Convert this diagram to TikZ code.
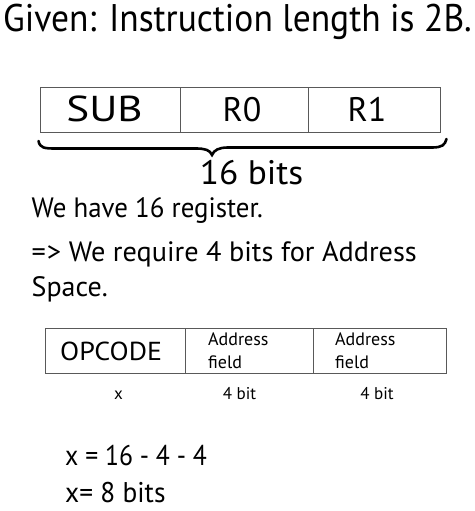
\documentclass[tikz,border=0pt]{standalone}
\usepackage{fontspec}
\setmainfont{PT Sans}
\begin{document}
\begin{tikzpicture}[x=1pt,y=1pt,
  txt/.style={anchor=base west,inner sep=0pt},
  ctxt/.style={anchor=base,inner sep=0pt},
  cell/.style={draw=black!65,line width=0.9pt}]
\useasboundingbox (0,0) rectangle (474,-511);
\node[txt,font=\fontsize{38.5}{40}\selectfont] (title) at (3,-32) {\scalebox{0.922}[1]{Given: Instruction length is 2B.}};
% box 1
\draw[cell] (40.5,-87) rectangle (440.5,-132);
\draw[cell] (180,-87) -- (180,-132);
\draw[cell] (308.5,-87) -- (308.5,-132);
\node[ctxt,font=\fontsize{36}{38}\selectfont] (sub) at (104.5,-121.5) {\scalebox{1.2}[1]{SUB}};
\node[ctxt,font=\fontsize{34}{36}\selectfont] (r0) at (242,-121.5) {R0};
\node[ctxt,font=\fontsize{34}{36}\selectfont] (r1) at (367,-121.5) {R1};
% brace
\draw[line width=2.6pt,line cap=round] (38.5,-141) .. controls (40,-148) and (44,-148.5) .. (56,-148.5)
  -- (196,-148.5) .. controls (205,-148.5) and (210,-150) .. (212,-155)
  .. controls (214,-150) and (219,-147.5) .. (228,-147.5)
  -- (432,-147.5) .. controls (442,-147.5) and (445,-145) .. (446.5,-139);
\node[ctxt,font=\fontsize{34}{36}\selectfont] (bits) at (251.5,-184) {\scalebox{1.04}[1]{16 bits}};
\node[txt,font=\fontsize{28}{30}\selectfont] (reg) at (31.5,-217) {\scalebox{0.96}[1]{We have 16 register.}};
\node[txt,font=\fontsize{28}{30}\selectfont] (req) at (31.5,-261.5) {\scalebox{1.01}[1]{=\kern1pt> We require 4 bits for Address}};
\node[txt,font=\fontsize{28}{30}\selectfont] (space) at (31.5,-296.5) {Space.};
% box 2
\draw[cell] (45,-328.5) rectangle (446,-373.5);
\draw[cell] (185.5,-328.5) -- (185.5,-373.5);
\draw[cell] (313.5,-328.5) -- (313.5,-373.5);
\node[txt,font=\fontsize{26}{28}\selectfont] (op) at (60,-360) {\scalebox{1.075}[1]{OPCODE}};
\node[txt,font=\fontsize{18}{20}\selectfont] (a1) at (208,-345.5) {Address};
\node[txt,font=\fontsize{18}{20}\selectfont] (f1) at (208,-368.5) {field};
\node[txt,font=\fontsize{18}{20}\selectfont] (a2) at (335,-345.5) {Address};
\node[txt,font=\fontsize{18}{20}\selectfont] (f2) at (335,-368.5) {field};
\node[ctxt,font=\fontsize{17}{19}\selectfont] (x) at (118.5,-399.5) {x};
\node[ctxt,font=\fontsize{17}{19}\selectfont] (b1) at (239.5,-399.5) {4 bit};
\node[ctxt,font=\fontsize{17}{19}\selectfont] (b2) at (377,-399.5) {4 bit};
\node[txt,font=\fontsize{28.5}{30}\selectfont] (eq1) at (65,-465.5) {\scalebox{0.9}[1]{x = 16 - 4 - 4}};
\node[txt,font=\fontsize{28.5}{30}\selectfont] (eq2) at (65,-502) {\scalebox{0.96}[1]{x= 8 bits}};
\end{tikzpicture}
\end{document}
